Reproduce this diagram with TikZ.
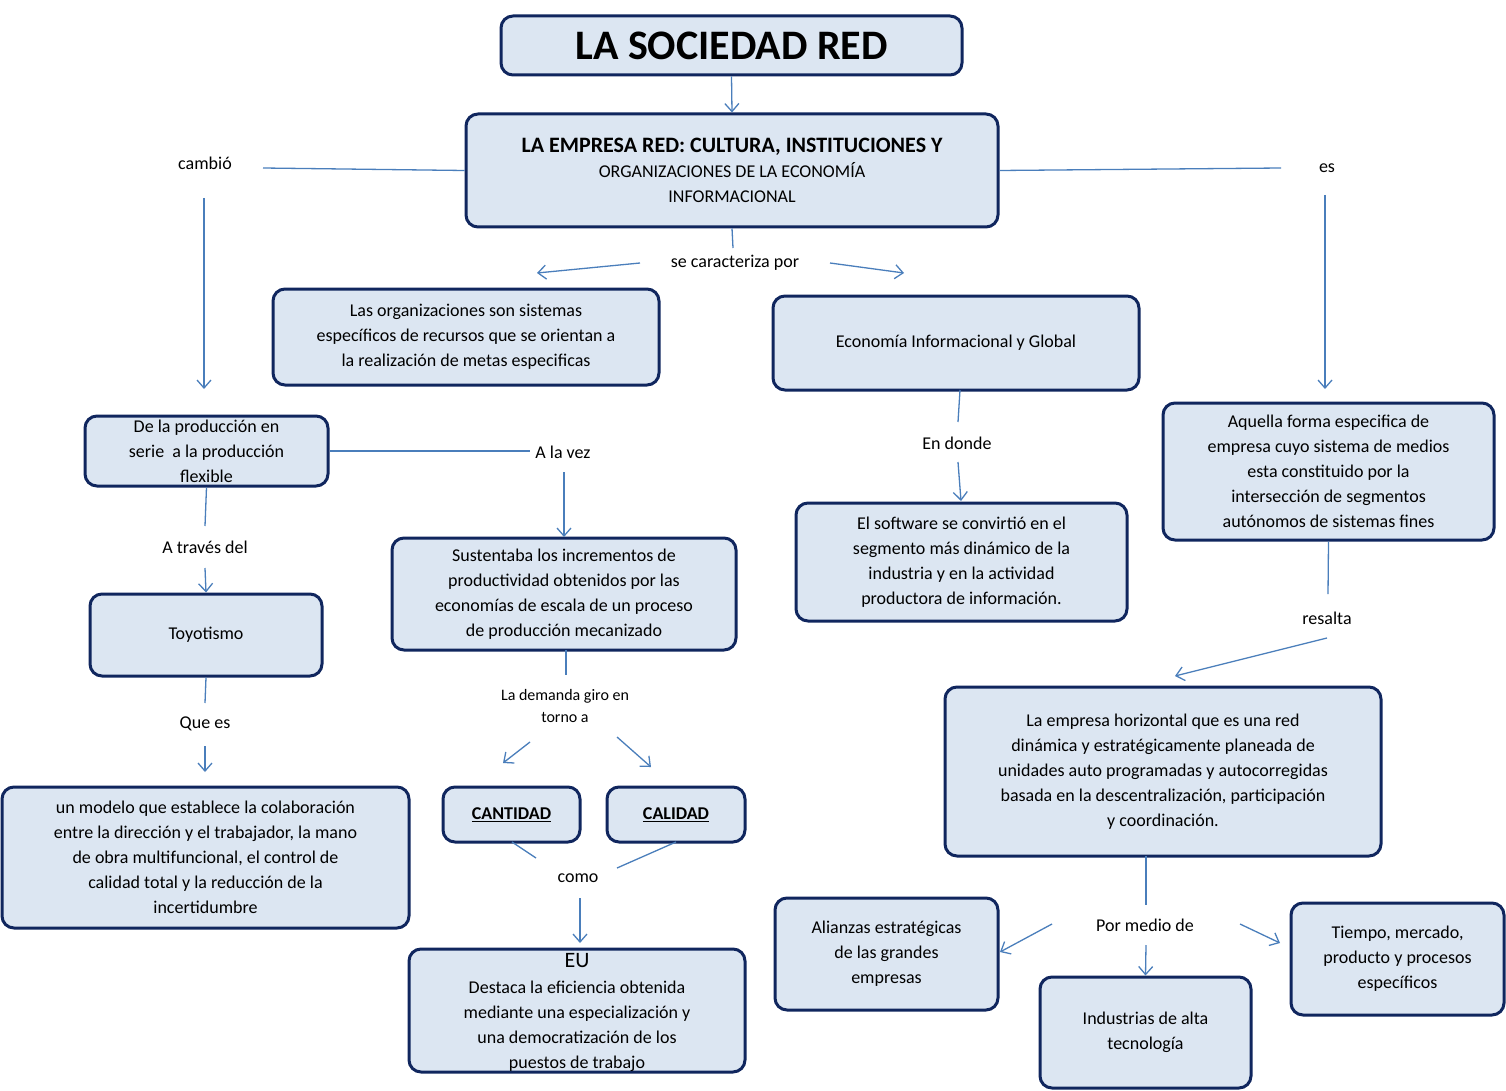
\documentclass[tikz,border=0pt]{standalone}
\usepackage{fontspec}
\setmainfont{Carlito}
\usetikzlibrary{arrows.meta}
\definecolor{bfill}{HTML}{DCE6F2}
\definecolor{bdraw}{HTML}{10265E}
\definecolor{tfill}{HTML}{95B3D7}
\definecolor{arr}{HTML}{4A7EBB}
\newcommand{\bx}[7]{\node[box,minimum width=#4-#2,minimum height=#5-#3] (#1) at ({(#2+#4)/2},{(#3+#5)/2}) {#7};}
\begin{document}
\begin{tikzpicture}[x=1pt,y=-1pt,
 box/.style={draw=bdraw,fill=bfill,line width=3pt,rounded corners=12pt,inner sep=0pt,align=center,font=\fontsize{18}{25}\selectfont},
 lab/.style={align=center,font=\fontsize{18}{24}\selectfont},
 con/.style={draw=arr,line width=1.3pt},
 arw/.style={con,-{Straight Barb[length=8pt,width=14pt]}}]
\useasboundingbox (0,0) rectangle (1506,1091);
\bx{title}{501}{16}{962}{75}{}{\fontsize{42}{44}\selectfont\bfseries LA SOCIEDAD RED}
\path (title) node[fill=none] {};
\bx{emp}{466}{114}{998}{227}{}{\fontsize{22}{30}\selectfont\bfseries LA EMPRESA RED: CULTURA, INSTITUCIONES Y\\ORGANIZACIONES DE LA ECONOMÍA\\INFORMACIONAL}
\bx{org}{273}{289}{659}{385}{}{Las organizaciones son sistemas\\específicos de recursos que se orientan a\\la realización de metas especificas}
\bx{econ}{773}{296}{1139}{390}{}{Economía Informacional y Global}
\bx{aq}{1163}{403}{1494}{540}{}{Aquella forma especifica de\\empresa cuyo sistema de medios\\esta constituido por la\\intersección de segmentos\\autónomos de sistemas fines}
\bx{prod}{85}{416}{328}{486}{}{De la producción en\\serie\ \ a la producción\\flexible}
\bx{sus}{392}{538}{736}{650}{}{Sustentaba los incrementos de\\productividad obtenidos por las\\economías de escala de un proceso\\de producción mecanizado}
\bx{soft}{796}{503}{1127}{621}{}{El software se convirtió en el\\segmento más dinámico de la\\industria y en la actividad\\productora de información.}
\bx{toy}{90}{594}{322}{676}{}{Toyotismo}
\bx{mod}{2}{787}{409}{928}{}{un modelo que establece la colaboración\\entre la dirección y el trabajador, la mano\\de obra multifuncional, el control de\\calidad total y la reducción de la\\incertidumbre}
\bx{cant}{443}{787}{580}{842}{}{\bfseries\underline{CANTIDAD}}
\bx{cal}{607}{787}{745}{842}{}{\bfseries\underline{CALIDAD}}
\bx{hor}{945}{687}{1381}{856}{}{La empresa horizontal que es una red\\dinámica y estratégicamente planeada de\\unidades auto programadas y autocorregidas\\basada en la descentralización, participación\\y coordinación.}
\bx{eu}{409}{949}{745}{1072}{}{}
\node[font=\fontsize{22}{24}\selectfont] (eut) at (577,961) {EU};
\node[lab,font=\fontsize{18}{25}\selectfont] (eub) at (577,1026) {Destaca la eficiencia obtenida\\mediante una especialización y\\una democratización de los\\puestos de trabajo};
\bx{ali}{775}{898}{998}{1010}{}{Alianzas estratégicas\\de las grandes\\empresas}
\bx{ind}{1040}{977}{1251}{1088}{}{Industrias de alta\\tecnología}
\bx{tie}{1291}{903}{1504}{1015}{}{Tiempo, mercado,\\producto y procesos\\específicos}
% labels
\node[lab] (lcam) at (205,163) {cambió};
\node[lab] (les) at (1327,168) {es};
\node[lab] (lse) at (735,263) {se caracteriza por};
\node[lab] (lvez) at (563,452) {A la vez};
\node[lab] (ldon) at (957,443) {En donde};
\node[lab] (ltra) at (205,547) {A través del};
\node[lab] (lres) at (1327,618) {resalta};
\node[lab] (lque) at (205,724) {Que es};
\node[align=center,font=\fontsize{16}{22}\selectfont] (ldem) at (565,706) {La demanda giro en\\torno a};
\node[lab] (lcom) at (578,878) {como};
\node[lab] (lpor) at (1145,925) {Por medio de};
% connectors
\draw[arw] (title.south) -- (emp.north);
\draw[con] (emp.west) -- (263,168);
\draw[arw] (204,198) -- (204,389);
\draw[con] (emp.east) -- (1281,168);
\draw[arw] (1325,195) -- (1325,389);
\draw[con] (emp.south) -- (733,248);
\draw[arw] (640,263) -- (537,273);
\draw[arw] (830,263) -- (904,273);
\draw[con] (prod.east) -- (530,451);
\draw[arw] (564,472) -- (564,537);
\draw[con] (960,390) -- (958,422);
\draw[arw] (958,462) -- (961,501);
\draw[con] (prod.south) -- (205,526);
\draw[arw] (205,568) -- (toy.north);
\draw[con] (aq.south) -- (1328,594);
\draw[arw] (1327,638) -- (1175,676);
\draw[con] (toy.south) -- (205,703);
\draw[arw] (205,746) -- (205,772);
\draw[con] (566,650) -- (566,675);
\draw[arw] (530,742) -- (503,763);
\draw[arw] (617,737) -- (651,767);
\draw[con] (512,842) -- (536,858);
\draw[con] (676,842) -- (617,868);
\draw[arw] (580,898) -- (580,943);
\draw[con] (1146,856) -- (1146,905);
\draw[arw] (1146,945) -- (ind.north);
\draw[arw] (1052,924) -- (1000,952);
\draw[arw] (1240,924) -- (1280,943);
\end{tikzpicture}
\end{document}
